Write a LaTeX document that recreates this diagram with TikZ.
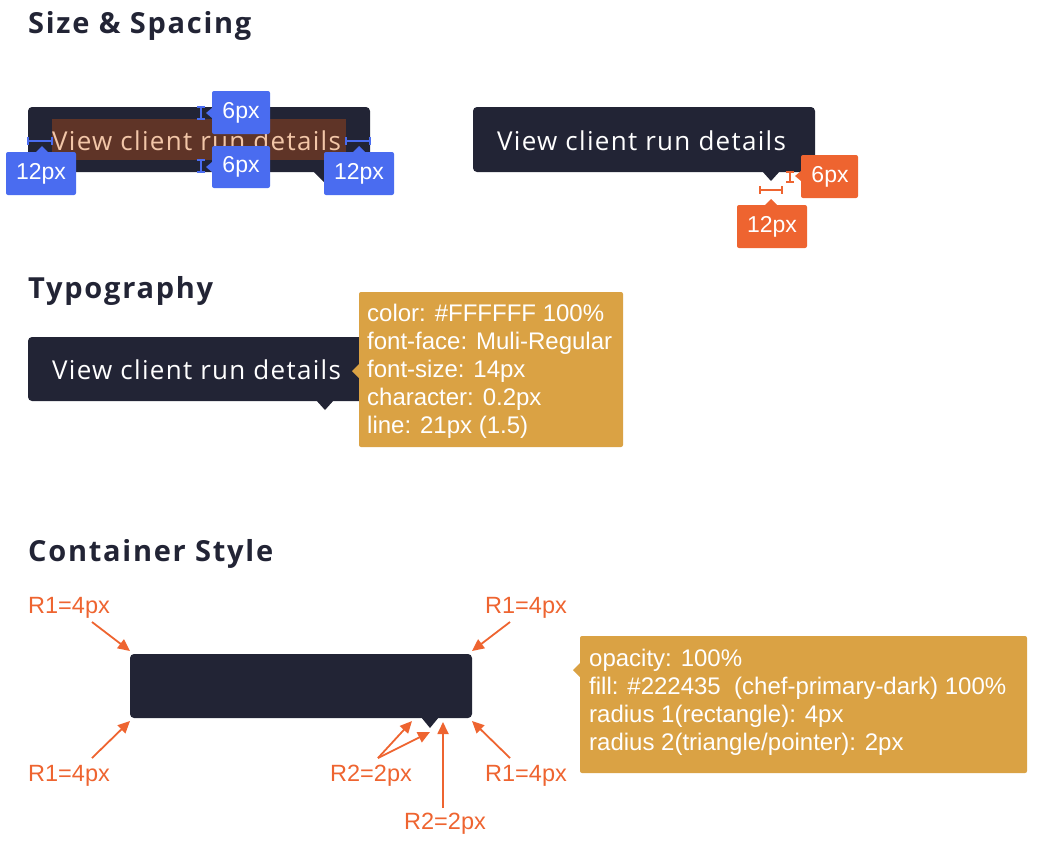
\documentclass[tikz,border=0pt]{standalone}
\usepackage{fontspec}
\setmainfont{Liberation Sans}
\newfontfamily\muli[LetterSpace=5]{Open Sans}
\newfontfamily\mulib[LetterSpace=6]{Open Sans}
\usetikzlibrary{arrows.meta}
\definecolor{dark}{HTML}{222435}
\definecolor{blu}{HTML}{4A6CF0}
\definecolor{org}{HTML}{EE6430}
\definecolor{yel}{HTML}{DAA244}
\definecolor{hl}{HTML}{5F3427}
\definecolor{peach}{HTML}{F2C6A8}
\tikzset{
 ttl/.style={anchor=base west,font=\mulib\fontsize{29}{30}\selectfont\bfseries,text=dark,inner sep=0},
 tiptext/.style={anchor=base west,font=\muli\fontsize{26}{28}\selectfont,inner sep=0},
 labtext/.style={text=white,font=\fontsize{23}{24}\selectfont,inner sep=0},
 ann/.style={text=org,font=\fontsize{23.5}{26}\selectfont,inner sep=0,anchor=base west},
 info/.style={text=white,font=\fontsize{24}{26}\selectfont,inner sep=0,anchor=base west},
 meas/.style={draw=#1,line width=1.5pt},
 arr/.style={draw=org,line width=1.8pt,-{Triangle[length=12pt,width=11pt]}}
}
\begin{document}
\begin{tikzpicture}[x=1pt,y=-1pt]
\useasboundingbox (0,0) rectangle (1064,852);
% titles
\node[ttl] (t1) at (28,33) {Size \& Spacing};
\node[ttl] (t2) at (28,298) {Typography};
\node[ttl] (t3) at (28,561) {Container Style};
% tooltip 1
\fill[dark,rounded corners=4pt] (28,107) rectangle (370,172);
\fill[dark] (313,171) -- (325,183) -- (333,171) -- cycle;
\fill[hl] (52,119) rectangle (346,160);
\node[tiptext,text=peach] (x1) at (52,150) {View client run details};
% measures blue
\draw[meas=blu] (28,141) -- (52,141) (28,137)--(28,145) (52,137)--(52,145);
\draw[meas=blu] (346,141) -- (370,141) (346,137)--(346,145) (370,137)--(370,145);
\draw[meas=blu] (201,107) -- (201,119) (197,107)--(205,107) (197,119)--(205,119);
\draw[meas=blu] (201,160) -- (201,172) (197,160)--(205,160) (197,172)--(205,172);
% blue labels
\fill[blu,rounded corners=2pt] (212,91) rectangle (270,134);
\fill[blu] (212,108)--(206,113)--(212,118)--cycle;
\node[labtext] (l1) at (241,113) {6px};
\fill[blu,rounded corners=2pt] (212,146) rectangle (270,188);
\fill[blu] (212,162)--(206,167)--(212,172)--cycle;
\node[labtext] (l2) at (241,167) {6px};
\fill[blu,rounded corners=2pt] (6,152) rectangle (76,195);
\fill[blu] (36,152)--(42,146)--(48,152)--cycle;
\node[labtext] (l3) at (41,174) {12px};
\fill[blu,rounded corners=2pt] (324,152) rectangle (394,195);
\fill[blu] (353,152)--(359,146)--(365,152)--cycle;
\node[labtext] (l4) at (359,174) {12px};
% tooltip 2
\fill[dark,rounded corners=4pt] (473,107) rectangle (815,172);
\fill[dark] (762,171) -- (771,181) -- (780,171) -- cycle;
\node[tiptext,text=white] (x2) at (497,150) {View client run details};
\draw[meas=org] (760,190)--(782,190) (760,186)--(760,194) (782,186)--(782,194);
\draw[meas=org] (790,172)--(790,182) (786,172)--(794,172) (786,182)--(794,182);
\fill[org,rounded corners=2pt] (801,155) rectangle (858,198);
\fill[org] (801,171)--(795,176)--(801,181)--cycle;
\node[labtext] (l5) at (830,177) {6px};
\fill[org,rounded corners=2pt] (737,205) rectangle (807,248);
\fill[org] (765,205)--(771,199)--(777,205)--cycle;
\node[labtext] (l6) at (772,227) {12px};
% typography tooltip
\fill[dark,rounded corners=4pt] (28,337) rectangle (370,401);
\fill[dark] (316,400) -- (325,410) -- (334,400) -- cycle;
\node[tiptext,text=white] (x3) at (52,379) {View client run details};
\fill[yel,rounded corners=2pt] (359,292) rectangle (623,447);
\fill[yel] (359,364)--(352,371)--(359,378)--cycle;
\node[info] (i1) at (367,321) {color: \#FFFFFF 100\%};
\node[info] (i2) at (367,349) {font-face: Muli-Regular};
\node[info] (i3) at (367,377) {font-size: 14px};
\node[info] (i4) at (367,405) {character: 0.2px};
\node[info] (i5) at (367,433) {line: 21px (1.5)};
% container
\fill[dark,rounded corners=4pt] (130,654) rectangle (472,718);
\fill[dark] (421,717) -- (430,728) -- (439,717) -- cycle;
\node[ann] (a1) at (28,613) {R1=4px};
\node[ann] (a2) at (485,613) {R1=4px};
\node[ann] (a3) at (28,781) {R1=4px};
\node[ann] (a4) at (485,781) {R1=4px};
\node[ann] (a5) at (330,781) {R2=2px};
\node[ann] (a6) at (404,829) {R2=2px};
\coordinate (c1) at (130,651); \coordinate (c2) at (472,651);
\coordinate (c3) at (130,721); \coordinate (c4) at (472,721);
\coordinate (c5) at (412,721); \coordinate (c6) at (430,732); \coordinate (c7) at (443,722);
\coordinate (s1) at (92,622); \coordinate (s2) at (510,622);
\coordinate (s3) at (92,758); \coordinate (s4) at (510,758);
\coordinate (s5) at (378,758); \coordinate (s7) at (443,808);
\draw[arr] (s1)--(c1);
\draw[arr] (s2)--(c2);
\draw[arr] (s3)--(c3);
\draw[arr] (s4)--(c4);
\draw[arr] (s5)--(c5);
\draw[arr] (s5)--(c6);
\draw[arr] (s7)--(c7);
\fill[yel,rounded corners=2pt] (580,636) rectangle (1027,773);
\fill[yel] (580,663)--(573,670)--(580,677)--cycle;
\node[info] (j1) at (589,666) {opacity: 100\%};
\node[info] (j2) at (589,694) {fill: \#222435\ \ (chef-primary-dark) 100\%};
\node[info] (j3) at (589,722) {radius 1(rectangle): 4px};
\node[info] (j4) at (589,750) {radius 2(triangle/pointer): 2px};
\end{tikzpicture}
\end{document}
